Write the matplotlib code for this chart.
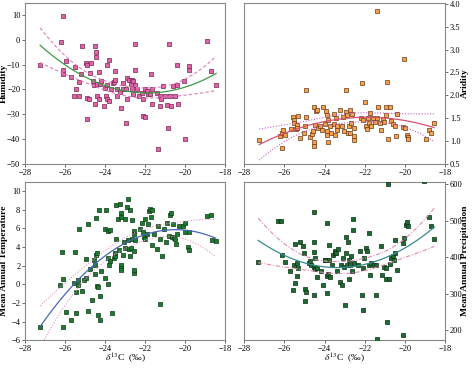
import numpy as np
import matplotlib
matplotlib.use("Agg")
import matplotlib.pyplot as plt

# delta 13C (x) and values
hum_x = [-27.25, -26.1, -26.2, -26.1, -26.1, -25.95, -25.7, -25.5, -25.55, -25.45, -25.3, -25.2, -25.15,
         -25.3, -24.95, -24.9, -24.9, -24.8, -24.9, -24.7, -24.75, -24.6, -24.5, -24.45, -24.45, -24.55,
         -24.4, -24.5, -24.4, -24.3, -24.3, -24.25, -24.2, -24.05, -24.0, -23.98, -23.9, -23.9, -23.8,
         -23.9, -23.8, -23.7, -23.6, -23.55, -23.5, -23.5, -23.4, -23.4, -23.25, -23.2, -23.1, -23.1,
         -22.95, -22.95, -22.9, -22.9, -22.8, -22.7, -22.65, -22.6, -22.65, -22.6, -22.5, -22.5, -22.5,
         -22.4, -22.3, -22.15, -22.1, -22.1, -22.0, -22.0, -21.9, -21.85, -21.75, -21.7, -21.65, -21.65,
         -21.35, -21.4, -21.25, -21.25, -21.2, -21.1, -21.0, -20.9, -20.85, -20.8, -20.75, -20.7, -20.6,
         -20.5, -20.4, -20.4, -20.35, -20.05, -20.0, -19.8, -19.8, -18.9, -18.7, -18.45]
hum_y = [-10.3, 9.5, -1.0, -12.3, -13.6, -8.4, -14.8, -10.8, -22.8, -20.0, -22.8, -13.6, -2.3,
         -17.1, -9.3, -10.0, -23.6, -24.0, -32.1, -9.3, -13.3, -16.8, -2.6, -5.0, -6.9, -18.4,
         -18.0, -26.0, -22.8, -24.0, -13.0, -18.0, -16.8, -26.8, -19.3, -22.8, -18.4, -10.3, -8.0,
         -24.0, -24.8, -20.0, -17.4, -17.0, -16.3, -12.4, -19.7, -22.8, -21.1, -27.5, -17.4, -19.7,
         -20.0, -33.7, -24.0, -15.4, -16.1, -17.8, -16.1, -16.7, -19.7, -21.7, -1.5, -12.0, -18.4,
         -19.7, -22.8, -21.4, -23.8, -30.8, -31.1, -19.7, -20.7, -21.7, -22.0, -13.6, -20.0, -25.7,
         -44.1, -21.4, -22.8, -26.5, -24.0, -18.7, -22.8, -26.1, -35.5, -1.7, -22.8, -26.8, -18.7,
         -22.8, -10.0, -18.3, -25.7, -16.6, -40.0, -12.0, -10.4, -0.6, -12.7, -18.1]

ari_x = [-27.25, -26.2, -26.1, -26.05, -26.1, -25.95, -25.65, -25.55, -25.5, -25.5, -25.4, -25.35, -25.35,
         -25.3, -25.2, -25.0, -24.95, -24.9, -24.9, -24.7, -24.6, -24.55, -24.5, -24.5, -24.5, -24.4,
         -24.35, -24.45, -24.3, -24.2, -24.1, -24.05, -24.0, -23.95, -23.9, -23.9, -23.9, -23.85, -23.85,
         -23.75, -23.7, -23.55, -23.55, -23.5, -23.45, -23.4, -23.4, -23.25, -23.15, -23.1, -23.05, -22.95,
         -22.95, -22.9, -22.85, -22.8, -22.75, -22.75, -22.7, -22.65, -22.55, -22.55, -22.55, -22.15, -22.0,
         -22.2, -22.1, -21.95, -21.9, -21.85, -21.8, -21.75, -21.7, -21.6, -21.5, -21.4, -21.35, -21.4,
         -21.25, -21.2, -21.1, -21.05, -20.95, -20.95, -20.9, -20.85, -20.75, -20.7, -20.6, -20.5, -20.45,
         -20.4, -20.05, -20.1, -20.0, -19.9, -19.85, -19.85, -18.95, -18.8, -18.7, -18.55]
ari_y = [1.02, 1.10, 1.17, 1.23, 0.84, 1.13, 1.26, 1.52, 1.45, 1.40, 1.26, 1.35, 1.29,
         1.55, 1.06, 1.17, 1.33, 2.12, 1.52, 1.08, 1.16, 1.22, 1.75, 0.97, 0.88, 1.66,
         1.68, 1.35, 1.29, 1.32, 1.24, 1.75, 1.38, 1.65, 1.57, 1.21, 1.14, 0.97, 1.47,
         1.32, 1.17, 1.60, 1.38, 1.14, 1.50, 1.32, 1.24, 1.68, 1.32, 1.52, 1.21, 2.12,
         1.64, 1.57, 1.17, 1.32, 1.68, 1.17, 1.39, 1.60, 1.28, 1.10, 1.02, 2.28, 1.86,
         1.50, 1.46, 1.32, 1.26, 1.50, 1.39, 1.61, 1.32, 1.50, 1.42, 3.85, 1.75, 1.50,
         1.39, 1.24, 1.48, 1.42, 1.57, 1.75, 2.30, 1.04, 1.74, 1.44, 1.37, 1.32, 1.11,
         1.59, 2.79, 1.30, 1.29, 1.13, 1.08, 1.04, 1.04, 1.23, 1.17, 1.39]

tmp_x = [-27.25, -26.17, -26.12, -26.25, -26.12, -25.95, -25.72, -25.55, -25.5, -25.45, -25.45, -25.37,
         -25.37, -25.32, -25.17, -25.05, -24.98, -24.95, -24.88, -24.88, -24.75, -24.68, -24.58, -24.53,
         -24.5, -24.48, -24.45, -24.43, -24.42, -24.38, -24.38, -24.33, -24.28, -24.28, -24.2, -24.03,
         -23.95, -24.0, -23.88, -23.88, -23.88, -23.82, -23.75, -23.78, -23.67, -23.58, -23.53, -23.5,
         -23.47, -23.45, -23.38, -23.33, -23.28, -23.22, -23.22, -23.22, -23.2, -23.22, -23.12, -23.08,
         -23.0, -23.0, -22.92, -22.88, -22.88, -22.82, -22.75, -22.75, -22.7, -22.67, -22.67, -22.58,
         -22.58, -22.58, -22.55, -22.55, -22.5, -22.28, -22.17, -22.12, -22.05, -22.0, -22.0, -21.92,
         -21.87, -21.82, -21.75, -21.72, -21.67, -21.67, -21.58, -21.42, -21.35, -21.28, -21.25, -21.15,
         -21.08, -20.95, -20.92, -20.83, -20.78, -20.7, -20.67, -20.62, -20.55, -20.5, -20.45, -20.42,
         -20.32, -20.12, -20.03, -20.0, -19.88, -19.83, -19.83, -18.92, -18.72, -18.67, -18.47]
tmp_y = [-4.57, 3.43, 0.54, -0.05, -4.57, -3.0, -3.88, 0.19, 3.43, -0.78, -3.04, -0.05,
         0.43, 5.93, -0.68, 0.47, 0.71, 2.7, -2.87, 6.45, 1.69, -1.65, 2.63, 1.13,
         2.03, 7.15, 3.15, 3.32, -0.16, -0.33, -3.29, 8.02, -1.2, -3.8, 1.41, 0.71,
         7.95, 5.93, 5.76, 2.87, 0.02, 2.1, 2.52, 5.86, -3.11, 2.8, 3.08, 3.32,
         8.54, 4.89, 6.97, 3.67, 8.64, 7.67, 7.25, 2.03, 1.76, 1.51, 3.15, 4.6,
         6.97, 3.91, 8.3, 9.13, 4.71, 3.84, 7.95, 3.08, 3.91, 6.9, 4.82, 5.76,
         5.41, 1.23, 1.58, 3.57, 4.71, 5.93, 6.62, 5.58, 5.06, 6.97, 4.89, 5.41,
         6.52, 7.91, 8.09, 7.25, 4.19, 8.02, 5.41, 3.77, 6.28, -2.07, 4.89, 3.04,
         5.93, 4.54, 6.62, 5.23, 7.5, 7.67, 5.06, 6.45, 4.96, 4.89, 4.37, 5.41,
         6.28, 6.28, 6.62, 5.58, 4.02, 3.67, 5.58, 7.39, 7.5, 4.78, 4.61]

pre_x = [-27.3, -26.29, -26.14, -26.12, -25.97, -25.72, -25.59, -25.51, -25.47, -25.47, -25.39, -25.38,
         -25.34, -25.21, -25.09, -25.04, -24.98, -24.93, -24.96, -24.78, -24.71, -24.68, -24.54, -24.54,
         -24.54, -24.51, -24.47, -24.5, -24.45, -24.38, -24.35, -24.15, -24.08, -24.0, -23.98, -23.88,
         -23.88, -23.88, -23.85, -23.76, -23.8, -23.71, -23.65, -23.6, -23.5, -23.48, -23.43, -23.38,
         -23.35, -23.22, -23.15, -23.18, -23.1, -23.02, -22.99, -22.93, -22.93, -22.88, -22.85, -22.8,
         -22.77, -22.72, -22.68, -22.63, -22.6, -22.57, -22.52, -22.32, -22.22, -22.15, -22.1, -22.1,
         -22.02, -21.94, -21.89, -21.8, -21.77, -21.72, -21.69, -21.53, -21.45, -21.42, -21.4, -21.19,
         -21.15, -21.02, -20.94, -20.94, -20.9, -20.86, -20.78, -20.72, -20.69, -20.6, -20.52, -20.48,
         -20.48, -20.39, -20.11, -20.11, -20.03, -19.94, -19.89, -19.86, -19.03, -18.78, -18.7, -18.53]
pre_y = [387, 499, 501, 408, 387, 363, 311, 379, 436, 329, 348, 385,
         370, 442, 430, 413, 314, 305, 280, 385, 391, 379, 524, 443,
         298, 415, 399, 374, 367, 372, 345, 363, 325, 394, 392, 495,
         302, 349, 354, 394, 434, 347, 379, 408, 412, 418, 412, 363,
         424, 332, 325, 379, 399, 374, 269, 457, 412, 379, 443, 394,
         340, 379, 403, 363, 475, 504, 385, 379, 418, 296, 372, 255,
         399, 427, 418, 379, 468, 352, 385, 379, 379, 296, 175, 430,
         352, 374, 372, 340, 224, 600, 340, 383, 399, 403, 394, 412,
         448, 365, 439, 188, 452, 490, 497, 485, 609, 510, 485, 450]


def quad_fit(x, y):
    # quadratic fit with 95% confidence band of the mean
    x = np.asarray(x, float)
    y = np.asarray(y, float)
    X = np.column_stack([np.ones_like(x), x, x ** 2])
    beta, res, rk, sv = np.linalg.lstsq(X, y, rcond=None)
    resid = y - X @ beta
    s2 = resid @ resid / (len(x) - 3)
    cov = s2 * np.linalg.inv(X.T @ X)
    xs = np.linspace(x.min(), x.max(), 200)
    Xs = np.column_stack([np.ones_like(xs), xs, xs ** 2])
    fit = Xs @ beta
    se = np.sqrt(np.einsum('ij,jk,ik->i', Xs, cov, Xs))
    return xs, fit, fit - 1.98 * se, fit + 1.98 * se


plt.rcParams['font.family'] = ['Liberation Serif', 'DejaVu Serif']
plt.rcParams['mathtext.fontset'] = 'stix'

fig = plt.figure(figsize=(4.74, 3.69), dpi=100)
ax1 = fig.add_axes([0.053, 0.556, 0.422, 0.437])
ax2 = fig.add_axes([0.515, 0.556, 0.424, 0.437])
ax3 = fig.add_axes([0.053, 0.078, 0.422, 0.429])
ax4 = fig.add_axes([0.515, 0.078, 0.424, 0.429])

panels = [
    (ax1, hum_x, hum_y, '#e064a8', '#7a2450', '#3f9a45', '#e07ab8', (0, (3, 2)), 'Humidity'),
    (ax2, ari_x, ari_y, '#f4a04c', '#6a3a18', '#d8506e', '#c860c8', (0, (1, 1.5)), 'Aridity'),
    (ax3, tmp_x, tmp_y, '#1d7a30', '#0b3a14', '#4a66b8', '#e096c4', (0, (1, 1.5)), 'Mean Annual Temperature'),
    (ax4, pre_x, pre_y, '#1d6a30', '#0b3014', '#3a8a8e', '#e48cb4', (0, (4, 1.5, 1, 1.5)), 'Mean Annual Precipitation'),
]

for ax, x, y, fc, ec, lc, cc, cls, lab in panels:
    ax.scatter(x, y, s=8, marker='s', c=fc, edgecolors=ec, linewidths=0.5, zorder=3)
    xs, fit, lo, hi = quad_fit(x, y)
    ax.plot(xs, fit, color=lc, lw=0.9, zorder=4)
    ax.plot(xs, lo, color=cc, lw=0.8, ls=cls, zorder=4)
    ax.plot(xs, hi, color=cc, lw=0.8, ls=cls, zorder=4)
    ax.set_xlim(-28, -18)
    ax.set_xticks([-28, -26, -24, -22, -20, -18])
    ax.tick_params(labelsize=6, length=2.5, width=0.6, pad=1, color='#555555')
    for sp in ax.spines.values():
        sp.set_color('#888888')
        sp.set_linewidth(0.8)
    ax.set_ylabel(lab, fontsize=6.8, fontweight='bold')

ax1.set_ylim(-50, 15)
ax1.set_yticks([-50, -40, -30, -20, -10, 0, 10])
ax2.set_ylim(0.5, 4.03)
ax2.set_yticks(np.arange(0.5, 4.01, 0.5))
ax2.set_yticklabels(['%.1f' % v for v in np.arange(0.5, 4.01, 0.5)])
ax3.set_ylim(-6, 11)
ax3.set_yticks(range(-6, 11, 2))
ax4.set_ylim(173, 607)
ax4.set_yticks([200, 300, 400, 500, 600])

for ax in (ax2, ax4):
    ax.yaxis.tick_right()
    ax.yaxis.set_label_position('right')
    ax.yaxis.set_label_coords(1.08, 0.5)

# keep the left labels inside the figure edge
for ax in (ax1, ax3):
    ax.yaxis.set_label_coords(-0.088, 0.5)

for ax in (ax3, ax4):
    ax.set_xlabel(r'$\delta^{13}$C  (‰)', fontsize=6.8)
    ax.xaxis.set_label_coords(0.5, -0.072)

fig.savefig('out.png', dpi=100)
